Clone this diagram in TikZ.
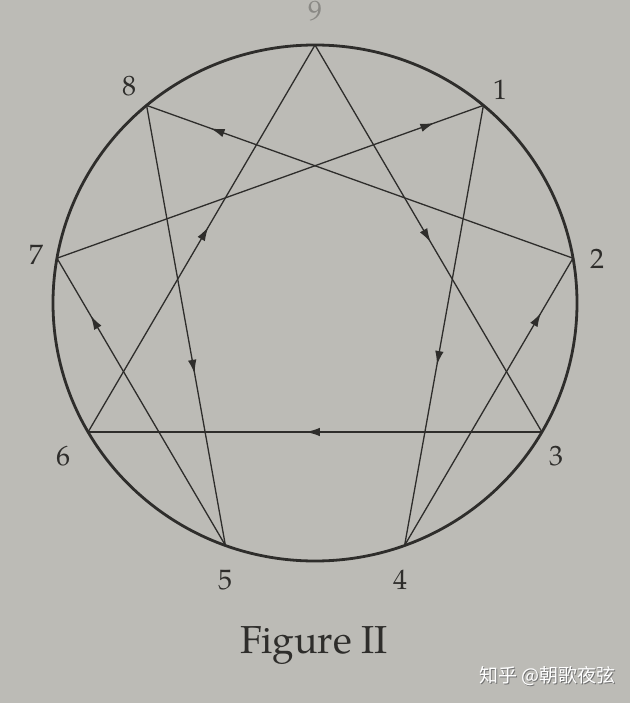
\documentclass[tikz,border=0pt]{standalone}
\usepackage{fontspec}
\setmainfont{TeX Gyre Pagella}
\newfontfamily\cjk{Noto Sans CJK SC}
\usetikzlibrary{arrows.meta,decorations.markings}
\definecolor{bg}{RGB}{188,187,182}
\definecolor{ink}{RGB}{46,45,43}
\tikzset{
  chord/.style={draw=ink, line width=1.3pt},
  ring/.style={draw=ink, line width=2.8pt},
  num/.style={font=\fontsize{28}{28}\selectfont, text=ink, anchor=base, inner sep=0pt},
  tipat/.style={postaction={decorate}, decoration={markings,
     mark=at position #1 with {\arrow[ink]{Latex[length=14pt,width=8.5pt]}}}}
}
\begin{document}
\begin{tikzpicture}[x=1pt,y=-1pt]
\fill[bg] (0,0) rectangle (630,703);
\useasboundingbox (0,0) rectangle (630,703);
% points on the ring
\coordinate (c) at (315,303);
\coordinate (p9) at (315,45);
\coordinate (p1) at (483.4,105.4);
\coordinate (p2) at (573.0,258.2);
\coordinate (p3) at (541.9,432.0);
\coordinate (p4) at (404.6,545.4);
\coordinate (p5) at (225.4,545.4);
\coordinate (p6) at (88.1,432.0);
\coordinate (p7) at (57.0,258.2);
\coordinate (p8) at (146.6,105.4);
% triangle
\draw[chord, tipat=0.51] (p9) -- (p3);
\draw[chord, tipat=0.52] (p3) -- (p6);
\draw[chord, tipat=0.53] (p6) -- (p9);
% hexad
\draw[chord, tipat=0.59] (p1) -- (p4);
\draw[chord, tipat=0.81] (p4) -- (p2);
\draw[chord, tipat=0.85] (p2) -- (p8);
\draw[chord, tipat=0.61] (p8) -- (p5);
\draw[chord, tipat=0.80] (p5) -- (p7);
\draw[chord, tipat=0.885] (p7) -- (p1);
% ring
\draw[ring] (c) ellipse [x radius=262pt, y radius=258pt];
% labels
\node[num, text=ink!35!bg] (l9) at (315,21) {9};
\node[num] (l1) at (500,100) {1};
\node[num] (l2) at (597,268) {2};
\node[num] (l3) at (556,465) {3};
\node[num] (l4) at (400,589) {4};
\node[num] (l5) at (225,589) {5};
\node[num] (l6) at (63,465) {6};
\node[num] (l7) at (36,264) {7};
\node[num] (l8) at (129,96) {8};
\node[anchor=base, inner sep=0pt, text=ink, font=\fontsize{39}{39}\selectfont] (cap) at (314,653) {Figure II};
% watermark
\node[anchor=west, inner sep=0pt, text=black!55, font=\cjk\fontsize{19}{19}\selectfont] (wms) at (480,677) {知乎 @朝歌夜弦};
\node[anchor=west, inner sep=0pt, text=white, font=\cjk\fontsize{19}{19}\selectfont] (wm) at (479,676) {知乎 @朝歌夜弦};
\end{tikzpicture}
\end{document}
